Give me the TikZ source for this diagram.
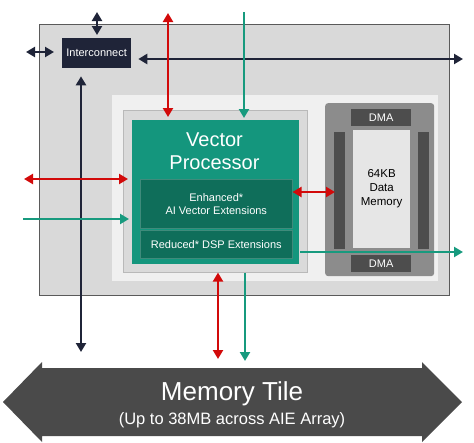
\documentclass[tikz,border=0pt]{standalone}
\usepackage{fontspec}
\setmainfont{Liberation Sans}
\usetikzlibrary{%
  arrows.meta,%
  positioning,%
  calc%
}
\definecolor{navy}{HTML}{1F2438}
\definecolor{aired}{HTML}{D20A0A}
\definecolor{aigreen}{HTML}{179A7E}
\definecolor{teal}{HTML}{14967D}
\definecolor{darkteal}{HTML}{0F6E5A}
\definecolor{outergray}{HTML}{D9D9D9}
\definecolor{edgegray}{HTML}{5A5A5A}
\definecolor{innergray}{HTML}{F0F0F0}
\definecolor{framegray}{HTML}{DADADA}
\definecolor{memgray}{HTML}{8C8C8C}
\definecolor{memdark}{HTML}{4D4D4D}
\definecolor{memlight}{HTML}{E6E6E6}
\definecolor{tilegray}{HTML}{4A4A4A}

\begin{document}
\begin{tikzpicture}
  [
  x=1pt, y=-1pt,
  font=\fontsize{11}{13}\selectfont,
  line width=2.3pt,
  >={Triangle[length=9pt,width=10pt]},
  box/.style={rectangle, inner sep=0pt, anchor=north west},
  extbox/.style={box, fill=darkteal, draw=darkteal!80!white, line width=0.5pt, text=white, align=center, minimum width=152},
  dmabox/.style={box, fill=memdark, text=white, minimum width=60, minimum height=17},
  barbox/.style={box, fill=memdark, minimum width=11, minimum height=117},
  ]

  \useasboundingbox (0,0) rectangle (474,442);

  % tile frame
  \node[box, fill=outergray, draw=edgegray, line width=1.2pt, minimum width=410, minimum height=271] (aie) at (39,24) {};
  \node[box, fill=innergray, minimum width=326, minimum height=186] (core) at (111,94) {};
  \node[box, fill=framegray, draw=framegray!85!black, line width=0.6pt, minimum width=184, minimum height=162] (frame) at (123,110) {};

  % vector processor
  \node[box, fill=teal, minimum width=167, minimum height=144] (vp) at (131,119) {};
  \node[text=white, align=center, font=\fontsize{20}{23}\selectfont] (vptext) at (214.5,151) {Vector\\Processor};
  \node[extbox, minimum height=49] (ext) at (140,179) {Enhanced*\\AI Vector Extensions};
  \node[extbox, minimum height=28] (dsp) at (140,230) {Reduced* DSP Extensions};

  % data memory
  \node[box, fill=memgray, rounded corners=3pt, minimum width=109, minimum height=173] (mem) at (324,102) {};
  \node[box, fill=memlight, align=center, font=\fontsize{11.5}{14}\selectfont, minimum width=57, minimum height=118] (data) at (352,129) {64KB\\Data\\Memory};
  \foreach \n/\y in {dmatop/108, dmabot/254} {
    \node[dmabox] (\n) at (350,\y) {DMA};
  }
  \foreach \n/\x in {barl/333, barr/417} {
    \node[barbox] (\n) at (\x,131) {};
  }

  \node[box, fill=navy, text=white, minimum width=69, minimum height=30] (ic) at (61,37) {Interconnect};

  % interconnect links
  \coordinate (ictop) at (97,12);
  \coordinate (icleft) at (26,52);
  \coordinate (icright) at (463,59);
  \coordinate (icbot) at (81,352);
  \draw[<->, navy, shorten >=2pt] (ictop) -- (ictop |- ic.north);
  \draw[<->, navy, shorten >=7pt] (icleft) -- (icleft -| ic.west);
  \draw[<->, navy, shorten >=6pt] (icright) -- (icright -| ic.east);
  \draw[<->, navy, shorten >=7pt] (icbot) -- (icbot |- ic.south);

  % stream and memory links
  \coordinate (rtop) at (168,13);
  \coordinate (gtop) at (244,12);
  \coordinate (rleft) at (24,179);
  \coordinate (gleft) at (23,219);
  \coordinate (gright) at (463,252);
  \coordinate (rbot) at (218,359);
  \coordinate (gbot) at (245,361);
  \draw[<->, aired, line width=2.8pt, shorten >=2pt] (rtop) -- (rtop |- vp.north);
  \draw[->, aigreen, shorten >=1pt] (gtop) -- (gtop |- vp.north);
  \draw[<->, aired, line width=2.8pt, shorten >=3pt] (rleft) -- (rleft -| vp.west);
  \draw[->, aigreen, shorten >=2pt] (gleft) -- (gleft -| vp.west);
  \draw[<->, aired, line width=2.8pt, shorten >=-2pt] (ext.east |- 0,192) -- (barl.west |- 0,192);
  \draw[->, aigreen] (vp.east |- gright) -- (gright);
  \draw[<->, aired, line width=2.8pt] (rbot |- frame.south) -- (rbot);
  \draw[->, aigreen] (gbot |- frame.south) -- (gbot);

  % memory tile
  \fill[tilegray] (3,402) -- (42,362) -- (42,368) -- (422,368) -- (422,362) -- (462,402)
    -- (422,442) -- (422,436) -- (42,436) -- (42,442) -- cycle;
  \node[text=white, anchor=base, font=\fontsize{26}{28}\selectfont] (tiletitle) at (232,400) {Memory Tile};
  \node[text=white, anchor=base, font=\fontsize{16.5}{18}\selectfont] (tilenote) at (232,424) {(Up to 38MB across AIE Array)};

\end{tikzpicture}
\end{document}
